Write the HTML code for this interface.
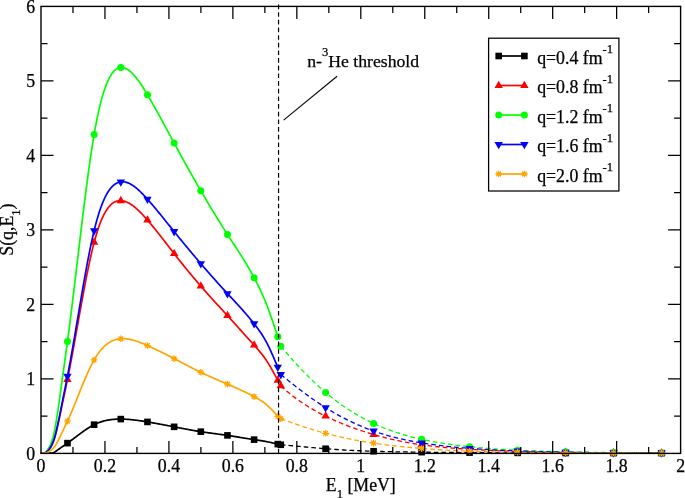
<!DOCTYPE html>
<html><head><meta charset="utf-8"><title>S(q,E1)</title>
<style>html,body{margin:0;padding:0;background:#fff}body{width:685px;height:498px;overflow:hidden}</style>
</head><body>
<svg width="685" height="498" viewBox="0 0 685 498" style="display:block">
<rect width="685" height="498" fill="#fff"/>
<path d="M40.80 453.20L41.59 453.20L42.39 453.20L43.18 453.20L43.97 453.20L44.76 453.20L45.56 453.19L46.35 453.19L47.14 453.18L47.93 453.18L48.73 453.20L49.52 453.20L50.31 453.20L51.10 453.20L51.90 453.09L52.69 452.89L53.48 452.60L54.27 452.22L55.07 451.76L55.86 451.24L56.65 450.69L57.44 450.13L58.24 449.58L59.03 449.03L59.82 448.48L60.62 447.92L61.41 447.37L62.20 446.82L62.99 446.26L63.79 445.71L64.58 445.16L65.37 444.61L66.16 444.06L66.96 443.50L67.75 442.94L68.54 442.38L69.33 441.80L70.13 441.23L70.92 440.64L71.71 440.05L72.50 439.46L73.30 438.86L74.09 438.27L74.88 437.67L75.68 437.07L76.47 436.47L77.26 435.87L78.05 435.27L78.85 434.68L79.64 434.08L80.43 433.50L81.22 432.91L82.02 432.33L82.81 431.76L83.60 431.19L84.39 430.64L85.19 430.09L85.98 429.54L86.77 429.01L87.56 428.49L88.36 427.98L89.15 427.48L89.94 427.00L90.73 426.53L91.53 426.07L92.32 425.63L93.11 425.20L93.91 424.79L94.70 424.39L95.49 424.02L96.28 423.66L97.08 423.31L97.87 422.99L98.66 422.68L99.45 422.38L100.25 422.10L101.04 421.83L101.83 421.58L102.62 421.35L103.42 421.12L104.21 420.91L105.00 420.72L105.79 420.53L106.59 420.36L107.38 420.21L108.17 420.06L108.96 419.93L109.76 419.80L110.55 419.69L111.34 419.59L112.14 419.50L112.93 419.42L113.72 419.34L114.51 419.28L115.31 419.23L116.10 419.19L116.89 419.15L117.68 419.12L118.48 419.10L119.27 419.09L120.06 419.09L120.85 419.09L121.65 419.10L122.44 419.11L123.23 419.13L124.02 419.16L124.82 419.19L125.61 419.23L126.40 419.27L127.20 419.32L127.99 419.38L128.78 419.44L129.57 419.50L130.37 419.57L131.16 419.65L131.95 419.72L132.74 419.81L133.54 419.89L134.33 419.98L135.12 420.08L135.91 420.18L136.71 420.28L137.50 420.38L138.29 420.49L139.08 420.60L139.88 420.72L140.67 420.83L141.46 420.95L142.25 421.07L143.05 421.20L143.84 421.32L144.63 421.45L145.43 421.58L146.22 421.71L147.01 421.84L147.80 421.97L148.60 422.11L149.39 422.24L150.18 422.38L150.97 422.52L151.77 422.65L152.56 422.79L153.35 422.93L154.14 423.08L154.94 423.22L155.73 423.36L156.52 423.50L157.31 423.65L158.11 423.79L158.90 423.94L159.69 424.08L160.48 424.23L161.28 424.38L162.07 424.53L162.86 424.68L163.66 424.83L164.45 424.97L165.24 425.13L166.03 425.28L166.83 425.43L167.62 425.58L168.41 425.73L169.20 425.88L170.00 426.03L170.79 426.19L171.58 426.34L172.37 426.49L173.17 426.65L173.96 426.80L174.75 426.95L175.54 427.11L176.34 427.26L177.13 427.41L177.92 427.57L178.72 427.72L179.51 427.87L180.30 428.02L181.09 428.18L181.89 428.33L182.68 428.48L183.47 428.63L184.26 428.78L185.06 428.93L185.85 429.08L186.64 429.23L187.43 429.37L188.23 429.52L189.02 429.67L189.81 429.81L190.60 429.95L191.40 430.10L192.19 430.24L192.98 430.38L193.77 430.51L194.57 430.65L195.36 430.79L196.15 430.92L196.95 431.05L197.74 431.18L198.53 431.31L199.32 431.44L200.12 431.57L200.91 431.69L201.70 431.81L202.49 431.93L203.29 432.05L204.08 432.17L204.87 432.29L205.66 432.40L206.46 432.51L207.25 432.62L208.04 432.74L208.83 432.85L209.63 432.95L210.42 433.06L211.21 433.17L212.00 433.28L212.80 433.38L213.59 433.49L214.38 433.60L215.18 433.70L215.97 433.81L216.76 433.91L217.55 434.02L218.35 434.13L219.14 434.23L219.93 434.34L220.72 434.45L221.52 434.56L222.31 434.66L223.10 434.77L223.89 434.88L224.69 435.00L225.48 435.11L226.27 435.22L227.06 435.34L227.86 435.46L228.65 435.57L229.44 435.69L230.24 435.82L231.03 435.94L231.82 436.06L232.61 436.19L233.41 436.31L234.20 436.44L234.99 436.56L235.78 436.69L236.58 436.82L237.37 436.95L238.16 437.08L238.95 437.21L239.75 437.34L240.54 437.47L241.33 437.60L242.12 437.73L242.92 437.86L243.71 437.99L244.50 438.12L245.29 438.25L246.09 438.38L246.88 438.51L247.67 438.63L248.47 438.76L249.26 438.89L250.05 439.01L250.84 439.14L251.64 439.26L252.43 439.38L253.22 439.51L254.01 439.63L254.81 439.74L255.60 439.86L256.39 439.98L257.18 440.10L257.98 440.21L258.77 440.33L259.56 440.45L260.35 440.57L261.15 440.69L261.94 440.82L262.73 440.95L263.52 441.08L264.32 441.21L265.11 441.35L265.90 441.50L266.70 441.64L267.49 441.80L268.28 441.96L269.07 442.12L269.87 442.29L270.66 442.46L271.45 442.63L272.24 442.81L273.04 442.99L273.83 443.18L274.62 443.36L275.41 443.55L276.21 443.74L277.00 443.92L277.79 444.11" fill="none" stroke="#000000" stroke-width="1.7" stroke-linejoin="round"/>
<rect x="64.17" y="439.84" width="6.60" height="6.60" fill="#000000"/>
<rect x="90.83" y="421.37" width="6.60" height="6.60" fill="#000000"/>
<rect x="117.50" y="415.79" width="6.60" height="6.60" fill="#000000"/>
<rect x="144.17" y="418.62" width="6.60" height="6.60" fill="#000000"/>
<rect x="170.83" y="423.53" width="6.60" height="6.60" fill="#000000"/>
<rect x="197.50" y="428.37" width="6.60" height="6.60" fill="#000000"/>
<rect x="224.17" y="432.10" width="6.60" height="6.60" fill="#000000"/>
<rect x="250.83" y="436.34" width="6.60" height="6.60" fill="#000000"/>
<rect x="274.49" y="440.81" width="6.60" height="6.60" fill="#000000"/>
<path d="M280.80 444.78L282.71 444.93L284.63 445.09L286.54 445.25L288.45 445.42L290.37 445.59L292.28 445.76L294.19 445.94L296.11 446.12L298.02 446.29L299.94 446.47L301.85 446.65L303.76 446.83L305.68 447.01L307.59 447.19L309.50 447.36L311.42 447.53L313.33 447.70L315.24 447.87L317.16 448.04L319.07 448.20L320.98 448.36L322.90 448.52L324.81 448.67L326.73 448.82L328.64 448.96L330.55 449.10L332.47 449.24L334.38 449.37L336.29 449.50L338.21 449.63L340.12 449.75L342.03 449.87L343.95 449.98L345.86 450.09L347.77 450.19L349.69 450.30L351.60 450.39L353.52 450.49L355.43 450.58L357.34 450.66L359.26 450.75L361.17 450.83L363.08 450.90L365.00 450.97L366.91 451.04L368.82 451.11L370.74 451.17L372.65 451.23L374.56 451.29L376.48 451.35L378.39 451.40L380.31 451.45L382.22 451.50L384.13 451.54L386.05 451.59L387.96 451.63L389.87 451.67L391.79 451.71L393.70 451.74L395.61 451.78L397.53 451.81L399.44 451.85L401.35 451.88L403.27 451.91L405.18 451.94L407.10 451.97L409.01 451.99L410.92 452.02L412.84 452.05L414.75 452.07L416.66 452.10L418.58 452.12L420.49 452.14L422.40 452.17L424.32 452.19L426.23 452.21L428.14 452.23L430.06 452.25L431.97 452.27L433.89 452.29L435.80 452.31L437.71 452.33L439.63 452.35L441.54 452.37L443.45 452.38L445.37 452.40L447.28 452.42L449.19 452.44L451.11 452.45L453.02 452.47L454.93 452.49L456.85 452.50L458.76 452.52L460.68 452.53L462.59 452.55L464.50 452.56L466.42 452.58L468.33 452.59L470.24 452.61L472.16 452.62L474.07 452.64L475.98 452.65L477.90 452.67L479.81 452.68L481.72 452.69L483.64 452.71L485.55 452.72L487.47 452.73L489.38 452.75L491.29 452.76L493.21 452.77L495.12 452.78L497.03 452.80L498.95 452.81L500.86 452.82L502.77 452.83L504.69 452.84L506.60 452.85L508.51 452.86L510.43 452.87L512.34 452.88L514.26 452.89L516.17 452.90L518.08 452.90L520.00 452.91L521.91 452.92L523.82 452.93L525.74 452.94L527.65 452.94L529.56 452.95L531.48 452.96L533.39 452.96L535.30 452.97L537.22 452.98L539.13 452.98L541.05 452.99L542.96 452.99L544.87 453.00L546.79 453.01L548.70 453.01L550.61 453.02L552.53 453.02L554.44 453.03L556.35 453.03L558.27 453.03L560.18 453.04L562.09 453.04L564.01 453.05L565.92 453.05L567.84 453.06L569.75 453.06L571.66 453.06L573.58 453.07L575.49 453.07L577.40 453.07L579.32 453.08L581.23 453.08L583.14 453.08L585.06 453.09L586.97 453.09L588.88 453.09L590.80 453.10L592.71 453.10L594.63 453.10L596.54 453.10L598.45 453.11L600.37 453.11L602.28 453.11L604.19 453.11L606.11 453.12L608.02 453.12L609.93 453.12L611.85 453.12L613.76 453.13L615.67 453.13L617.59 453.13L619.50 453.13L621.42 453.13L623.33 453.14L625.24 453.14L627.16 453.14L629.07 453.14L630.98 453.14L632.90 453.14L634.81 453.15L636.72 453.15L638.64 453.15L640.55 453.15L642.46 453.15L644.38 453.15L646.29 453.15L648.21 453.15L650.12 453.16L652.03 453.16L653.95 453.16L655.86 453.16L657.77 453.16L659.69 453.16L661.60 453.16" fill="none" stroke="#000000" stroke-width="1.3" stroke-dasharray="4.66 3" stroke-linejoin="round"/>
<rect x="277.50" y="441.48" width="6.60" height="6.60" fill="#000000"/>
<rect x="322.30" y="445.43" width="6.60" height="6.60" fill="#000000"/>
<rect x="370.30" y="447.96" width="6.60" height="6.60" fill="#000000"/>
<rect x="418.30" y="448.86" width="6.60" height="6.60" fill="#000000"/>
<rect x="466.30" y="449.30" width="6.60" height="6.60" fill="#000000"/>
<rect x="514.30" y="449.60" width="6.60" height="6.60" fill="#000000"/>
<rect x="562.30" y="449.75" width="6.60" height="6.60" fill="#000000"/>
<rect x="610.30" y="449.83" width="6.60" height="6.60" fill="#000000"/>
<rect x="658.30" y="449.86" width="6.60" height="6.60" fill="#000000"/>
<path d="M40.80 453.20L41.59 453.20L42.39 453.18L43.18 453.13L43.97 453.01L44.76 452.80L45.56 452.49L46.35 452.04L47.14 451.47L47.93 450.77L48.73 449.93L49.52 448.96L50.31 447.85L51.10 446.58L51.90 445.11L52.69 443.41L53.48 441.44L54.27 439.16L55.07 436.55L55.86 433.63L56.65 430.46L57.44 427.10L58.24 423.58L59.03 419.93L59.82 416.18L60.62 412.35L61.41 408.50L62.20 404.68L62.99 400.91L63.79 397.18L64.58 393.46L65.37 389.72L66.16 385.94L66.96 382.11L67.75 378.21L68.54 374.23L69.33 370.18L70.13 366.05L70.92 361.87L71.71 357.63L72.50 353.35L73.30 349.02L74.09 344.66L74.88 340.27L75.68 335.86L76.47 331.43L77.26 326.99L78.05 322.55L78.85 318.12L79.64 313.69L80.43 309.29L81.22 304.90L82.02 300.55L82.81 296.23L83.60 291.96L84.39 287.74L85.19 283.57L85.98 279.46L86.77 275.43L87.56 271.47L88.36 267.59L89.15 263.80L89.94 260.10L90.73 256.51L91.53 253.03L92.32 249.66L93.11 246.41L93.91 243.29L94.70 240.30L95.49 237.44L96.28 234.72L97.08 232.13L97.87 229.66L98.66 227.32L99.45 225.09L100.25 222.98L101.04 220.99L101.83 219.11L102.62 217.35L103.42 215.68L104.21 214.12L105.00 212.67L105.79 211.31L106.59 210.05L107.38 208.88L108.17 207.80L108.96 206.82L109.76 205.91L110.55 205.09L111.34 204.35L112.14 203.69L112.93 203.10L113.72 202.58L114.51 202.13L115.31 201.75L116.10 201.43L116.89 201.17L117.68 200.97L118.48 200.83L119.27 200.74L120.06 200.70L120.85 200.70L121.65 200.76L122.44 200.85L123.23 200.99L124.02 201.17L124.82 201.39L125.61 201.65L126.40 201.95L127.20 202.28L127.99 202.65L128.78 203.06L129.57 203.50L130.37 203.97L131.16 204.47L131.95 205.01L132.74 205.57L133.54 206.17L134.33 206.79L135.12 207.43L135.91 208.11L136.71 208.80L137.50 209.52L138.29 210.26L139.08 211.02L139.88 211.80L140.67 212.60L141.46 213.42L142.25 214.25L143.05 215.10L143.84 215.97L144.63 216.84L145.43 217.73L146.22 218.63L147.01 219.54L147.80 220.46L148.60 221.38L149.39 222.32L150.18 223.26L150.97 224.21L151.77 225.16L152.56 226.12L153.35 227.09L154.14 228.06L154.94 229.04L155.73 230.02L156.52 231.01L157.31 232.01L158.11 233.00L158.90 234.01L159.69 235.01L160.48 236.02L161.28 237.03L162.07 238.04L162.86 239.06L163.66 240.08L164.45 241.10L165.24 242.12L166.03 243.14L166.83 244.17L167.62 245.19L168.41 246.21L169.20 247.24L170.00 248.26L170.79 249.28L171.58 250.31L172.37 251.33L173.17 252.35L173.96 253.36L174.75 254.38L175.54 255.39L176.34 256.40L177.13 257.40L177.92 258.41L178.72 259.41L179.51 260.41L180.30 261.41L181.09 262.40L181.89 263.39L182.68 264.38L183.47 265.37L184.26 266.35L185.06 267.33L185.85 268.31L186.64 269.28L187.43 270.25L188.23 271.22L189.02 272.18L189.81 273.14L190.60 274.10L191.40 275.06L192.19 276.01L192.98 276.96L193.77 277.91L194.57 278.85L195.36 279.79L196.15 280.72L196.95 281.65L197.74 282.58L198.53 283.51L199.32 284.43L200.12 285.34L200.91 286.26L201.70 287.17L202.49 288.08L203.29 288.98L204.08 289.88L204.87 290.78L205.66 291.67L206.46 292.56L207.25 293.45L208.04 294.33L208.83 295.22L209.63 296.10L210.42 296.98L211.21 297.85L212.00 298.73L212.80 299.60L213.59 300.47L214.38 301.34L215.18 302.21L215.97 303.08L216.76 303.95L217.55 304.81L218.35 305.68L219.14 306.54L219.93 307.41L220.72 308.27L221.52 309.14L222.31 310.00L223.10 310.86L223.89 311.73L224.69 312.59L225.48 313.46L226.27 314.32L227.06 315.19L227.86 316.06L228.65 316.93L229.44 317.80L230.24 318.67L231.03 319.54L231.82 320.41L232.61 321.28L233.41 322.16L234.20 323.03L234.99 323.91L235.78 324.78L236.58 325.66L237.37 326.54L238.16 327.42L238.95 328.30L239.75 329.18L240.54 330.06L241.33 330.94L242.12 331.82L242.92 332.70L243.71 333.58L244.50 334.46L245.29 335.35L246.09 336.23L246.88 337.11L247.67 337.99L248.47 338.88L249.26 339.76L250.05 340.65L250.84 341.53L251.64 342.41L252.43 343.30L253.22 344.18L254.01 345.07L254.81 345.95L255.60 346.84L256.39 347.73L257.18 348.62L257.98 349.53L258.77 350.45L259.56 351.39L260.35 352.34L261.15 353.31L261.94 354.31L262.73 355.33L263.52 356.37L264.32 357.45L265.11 358.56L265.90 359.70L266.70 360.89L267.49 362.11L268.28 363.37L269.07 364.66L269.87 365.99L270.66 367.34L271.45 368.72L272.24 370.13L273.04 371.55L273.83 372.99L274.62 374.45L275.41 375.91L276.21 377.39L277.00 378.87L277.79 380.36" fill="none" stroke="#ff0000" stroke-width="1.7" stroke-linejoin="round"/>
<path d="M67.47 374.76L63.27 382.04L71.67 382.04Z" fill="#ff0000"/>
<path d="M94.13 237.56L89.93 244.84L98.33 244.84Z" fill="#ff0000"/>
<path d="M120.80 195.85L116.60 203.13L125.00 203.13Z" fill="#ff0000"/>
<path d="M147.47 215.22L143.27 222.49L151.67 222.49Z" fill="#ff0000"/>
<path d="M174.13 248.73L169.93 256.01L178.33 256.01Z" fill="#ff0000"/>
<path d="M200.80 281.28L196.60 288.56L205.00 288.56Z" fill="#ff0000"/>
<path d="M227.47 310.78L223.27 318.05L231.67 318.05Z" fill="#ff0000"/>
<path d="M254.13 340.35L249.93 347.62L258.33 347.62Z" fill="#ff0000"/>
<path d="M277.79 375.51L273.59 382.78L281.99 382.78Z" fill="#ff0000"/>
<path d="M280.80 385.94L282.71 387.69L284.63 389.38L286.54 391.02L288.45 392.61L290.37 394.15L292.28 395.65L294.19 397.11L296.11 398.52L298.02 399.90L299.94 401.23L301.85 402.53L303.76 403.80L305.68 405.03L307.59 406.23L309.50 407.40L311.42 408.55L313.33 409.66L315.24 410.74L317.16 411.80L319.07 412.83L320.98 413.84L322.90 414.83L324.81 415.79L326.73 416.73L328.64 417.65L330.55 418.55L332.47 419.43L334.38 420.29L336.29 421.13L338.21 421.96L340.12 422.76L342.03 423.55L343.95 424.33L345.86 425.09L347.77 425.83L349.69 426.56L351.60 427.27L353.52 427.97L355.43 428.65L357.34 429.32L359.26 429.98L361.17 430.62L363.08 431.25L365.00 431.87L366.91 432.48L368.82 433.07L370.74 433.65L372.65 434.23L374.56 434.79L376.48 435.33L378.39 435.87L380.31 436.39L382.22 436.91L384.13 437.41L386.05 437.89L387.96 438.37L389.87 438.83L391.79 439.28L393.70 439.72L395.61 440.15L397.53 440.56L399.44 440.96L401.35 441.35L403.27 441.73L405.18 442.10L407.10 442.45L409.01 442.79L410.92 443.13L412.84 443.45L414.75 443.76L416.66 444.06L418.58 444.35L420.49 444.63L422.40 444.90L424.32 445.16L426.23 445.41L428.14 445.65L430.06 445.88L431.97 446.11L433.89 446.33L435.80 446.54L437.71 446.74L439.63 446.94L441.54 447.13L443.45 447.32L445.37 447.49L447.28 447.67L449.19 447.83L451.11 448.00L453.02 448.15L454.93 448.31L456.85 448.45L458.76 448.60L460.68 448.73L462.59 448.87L464.50 449.00L466.42 449.12L468.33 449.25L470.24 449.37L472.16 449.48L474.07 449.59L475.98 449.70L477.90 449.81L479.81 449.91L481.72 450.01L483.64 450.11L485.55 450.20L487.47 450.29L489.38 450.38L491.29 450.46L493.21 450.55L495.12 450.63L497.03 450.71L498.95 450.78L500.86 450.86L502.77 450.93L504.69 451.00L506.60 451.06L508.51 451.13L510.43 451.19L512.34 451.25L514.26 451.31L516.17 451.37L518.08 451.43L520.00 451.48L521.91 451.53L523.82 451.58L525.74 451.63L527.65 451.68L529.56 451.73L531.48 451.77L533.39 451.82L535.30 451.86L537.22 451.90L539.13 451.94L541.05 451.98L542.96 452.02L544.87 452.05L546.79 452.09L548.70 452.12L550.61 452.16L552.53 452.19L554.44 452.22L556.35 452.25L558.27 452.28L560.18 452.31L562.09 452.33L564.01 452.36L565.92 452.38L567.84 452.41L569.75 452.43L571.66 452.46L573.58 452.48L575.49 452.50L577.40 452.52L579.32 452.54L581.23 452.56L583.14 452.58L585.06 452.60L586.97 452.62L588.88 452.64L590.80 452.65L592.71 452.67L594.63 452.69L596.54 452.70L598.45 452.72L600.37 452.73L602.28 452.75L604.19 452.76L606.11 452.78L608.02 452.79L609.93 452.80L611.85 452.82L613.76 452.83L615.67 452.84L617.59 452.85L619.50 452.86L621.42 452.88L623.33 452.89L625.24 452.90L627.16 452.91L629.07 452.92L630.98 452.93L632.90 452.94L634.81 452.95L636.72 452.95L638.64 452.96L640.55 452.97L642.46 452.98L644.38 452.99L646.29 453.00L648.21 453.00L650.12 453.01L652.03 453.02L653.95 453.03L655.86 453.03L657.77 453.04L659.69 453.04L661.60 453.05" fill="none" stroke="#ff0000" stroke-width="1.3" stroke-dasharray="4.66 3" stroke-linejoin="round"/>
<path d="M280.80 381.09L276.60 388.37L285.00 388.37Z" fill="#ff0000"/>
<path d="M325.60 411.33L321.40 418.61L329.80 418.61Z" fill="#ff0000"/>
<path d="M373.60 429.65L369.40 436.93L377.80 436.93Z" fill="#ff0000"/>
<path d="M421.60 439.93L417.40 447.21L425.80 447.21Z" fill="#ff0000"/>
<path d="M469.60 444.48L465.40 451.75L473.80 451.75Z" fill="#ff0000"/>
<path d="M517.60 446.56L513.40 453.84L521.80 453.84Z" fill="#ff0000"/>
<path d="M565.60 447.53L561.40 454.81L569.80 454.81Z" fill="#ff0000"/>
<path d="M613.60 447.98L609.40 455.25L617.80 455.25Z" fill="#ff0000"/>
<path d="M661.60 448.20L657.40 455.48L665.80 455.48Z" fill="#ff0000"/>
<path d="M40.80 453.20L41.59 453.20L42.39 453.18L43.18 453.09L43.97 452.91L44.76 452.60L45.56 452.12L46.35 451.45L47.14 450.58L47.93 449.51L48.73 448.24L49.52 446.77L50.31 445.09L51.10 443.17L51.90 440.94L52.69 438.36L53.48 435.36L54.27 431.91L55.07 427.96L55.86 423.53L56.65 418.72L57.44 413.63L58.24 408.30L59.03 402.76L59.82 397.07L60.62 391.26L61.41 385.43L62.20 379.63L62.99 373.92L63.79 368.26L64.58 362.62L65.37 356.95L66.16 351.22L66.96 345.42L67.75 339.51L68.54 333.48L69.33 327.35L70.13 321.12L70.92 314.80L71.71 308.40L72.50 301.94L73.30 295.42L74.09 288.84L74.88 282.23L75.68 275.58L76.47 268.91L77.26 262.23L78.05 255.54L78.85 248.87L79.64 242.21L80.43 235.57L81.22 228.97L82.02 222.41L82.81 215.91L83.60 209.46L84.39 203.10L85.19 196.81L85.98 190.61L86.77 184.52L87.56 178.53L88.36 172.67L89.15 166.93L89.94 161.33L90.73 155.88L91.53 150.59L92.32 145.46L93.11 140.51L93.91 135.75L94.70 131.18L95.49 126.80L96.28 122.62L97.08 118.62L97.87 114.81L98.66 111.17L99.45 107.72L100.25 104.43L101.04 101.32L101.83 98.37L102.62 95.58L103.42 92.95L104.21 90.47L105.00 88.15L105.79 85.97L106.59 83.93L107.38 82.04L108.17 80.28L108.96 78.65L109.76 77.15L110.55 75.77L111.34 74.52L112.14 73.38L112.93 72.35L113.72 71.44L114.51 70.63L115.31 69.92L116.10 69.31L116.89 68.80L117.68 68.38L118.48 68.04L119.27 67.79L120.06 67.62L120.85 67.52L121.65 67.50L122.44 67.55L123.23 67.66L124.02 67.85L124.82 68.10L125.61 68.41L126.40 68.78L127.20 69.22L127.99 69.71L128.78 70.26L129.57 70.86L130.37 71.51L131.16 72.22L131.95 72.97L132.74 73.77L133.54 74.62L134.33 75.50L135.12 76.43L135.91 77.40L136.71 78.40L137.50 79.44L138.29 80.52L139.08 81.62L139.88 82.76L140.67 83.92L141.46 85.11L142.25 86.33L143.05 87.56L143.84 88.82L144.63 90.10L145.43 91.39L146.22 92.70L147.01 94.02L147.80 95.35L148.60 96.70L149.39 98.05L150.18 99.41L150.97 100.78L151.77 102.16L152.56 103.55L153.35 104.94L154.14 106.35L154.94 107.76L155.73 109.17L156.52 110.60L157.31 112.02L158.11 113.46L158.90 114.90L159.69 116.34L160.48 117.79L161.28 119.24L162.07 120.70L162.86 122.16L163.66 123.62L164.45 125.09L165.24 126.56L166.03 128.03L166.83 129.50L167.62 130.97L168.41 132.44L169.20 133.91L170.00 135.38L170.79 136.86L171.58 138.33L172.37 139.80L173.17 141.26L173.96 142.73L174.75 144.19L175.54 145.65L176.34 147.11L177.13 148.57L177.92 150.02L178.72 151.47L179.51 152.92L180.30 154.37L181.09 155.81L181.89 157.25L182.68 158.69L183.47 160.12L184.26 161.55L185.06 162.98L185.85 164.41L186.64 165.83L187.43 167.25L188.23 168.66L189.02 170.08L189.81 171.49L190.60 172.90L191.40 174.30L192.19 175.70L192.98 177.10L193.77 178.50L194.57 179.89L195.36 181.28L196.15 182.66L196.95 184.05L197.74 185.42L198.53 186.80L199.32 188.17L200.12 189.54L200.91 190.91L201.70 192.27L202.49 193.63L203.29 194.98L204.08 196.33L204.87 197.68L205.66 199.03L206.46 200.37L207.25 201.70L208.04 203.04L208.83 204.37L209.63 205.69L210.42 207.01L211.21 208.33L212.00 209.64L212.80 210.95L213.59 212.26L214.38 213.56L215.18 214.86L215.97 216.15L216.76 217.44L217.55 218.73L218.35 220.01L219.14 221.29L219.93 222.56L220.72 223.83L221.52 225.09L222.31 226.35L223.10 227.61L223.89 228.86L224.69 230.11L225.48 231.35L226.27 232.59L227.06 233.82L227.86 235.05L228.65 236.27L229.44 237.49L230.24 238.71L231.03 239.93L231.82 241.14L232.61 242.35L233.41 243.57L234.20 244.78L234.99 246.00L235.78 247.22L236.58 248.44L237.37 249.66L238.16 250.89L238.95 252.13L239.75 253.37L240.54 254.61L241.33 255.87L242.12 257.13L242.92 258.40L243.71 259.68L244.50 260.97L245.29 262.27L246.09 263.58L246.88 264.90L247.67 266.24L248.47 267.59L249.26 268.96L250.05 270.34L250.84 271.74L251.64 273.15L252.43 274.58L253.22 276.03L254.01 277.49L254.81 278.98L255.60 280.49L256.39 282.02L257.18 283.57L257.98 285.16L258.77 286.77L259.56 288.41L260.35 290.09L261.15 291.80L261.94 293.54L262.73 295.33L263.52 297.16L264.32 299.02L265.11 300.94L265.90 302.89L266.70 304.90L267.49 306.96L268.28 309.06L269.07 311.21L269.87 313.39L270.66 315.61L271.45 317.87L272.24 320.15L273.04 322.46L273.83 324.79L274.62 327.14L275.41 329.50L276.21 331.87L277.00 334.25L277.79 336.63" fill="none" stroke="#00ff00" stroke-width="1.7" stroke-linejoin="round"/>
<circle cx="67.47" cy="341.62" r="3.5" fill="#00ff00"/>
<circle cx="94.13" cy="134.41" r="3.5" fill="#00ff00"/>
<circle cx="120.80" cy="67.53" r="3.5" fill="#00ff00"/>
<circle cx="147.47" cy="94.79" r="3.5" fill="#00ff00"/>
<circle cx="174.13" cy="143.05" r="3.5" fill="#00ff00"/>
<circle cx="200.80" cy="190.72" r="3.5" fill="#00ff00"/>
<circle cx="227.47" cy="234.44" r="3.5" fill="#00ff00"/>
<circle cx="254.13" cy="277.72" r="3.5" fill="#00ff00"/>
<circle cx="277.79" cy="336.63" r="3.5" fill="#00ff00"/>
<path d="M280.80 346.24L282.71 348.50L284.63 350.75L286.54 352.97L288.45 355.17L290.37 357.34L292.28 359.50L294.19 361.63L296.11 363.73L298.02 365.80L299.94 367.85L301.85 369.87L303.76 371.86L305.68 373.83L307.59 375.76L309.50 377.66L311.42 379.53L313.33 381.37L315.24 383.18L317.16 384.96L319.07 386.71L320.98 388.42L322.90 390.10L324.81 391.75L326.73 393.37L328.64 394.96L330.55 396.51L332.47 398.03L334.38 399.52L336.29 400.98L338.21 402.41L340.12 403.80L342.03 405.17L343.95 406.50L345.86 407.80L347.77 409.08L349.69 410.32L351.60 411.53L353.52 412.72L355.43 413.87L357.34 415.00L359.26 416.10L361.17 417.17L363.08 418.21L365.00 419.23L366.91 420.22L368.82 421.18L370.74 422.12L372.65 423.04L374.56 423.93L376.48 424.79L378.39 425.63L380.31 426.45L382.22 427.25L384.13 428.02L386.05 428.77L387.96 429.51L389.87 430.21L391.79 430.90L393.70 431.57L395.61 432.22L397.53 432.85L399.44 433.47L401.35 434.06L403.27 434.64L405.18 435.20L407.10 435.74L409.01 436.26L410.92 436.77L412.84 437.27L414.75 437.75L416.66 438.21L418.58 438.66L420.49 439.10L422.40 439.52L424.32 439.93L426.23 440.33L428.14 440.71L430.06 441.09L431.97 441.45L433.89 441.80L435.80 442.14L437.71 442.47L439.63 442.79L441.54 443.10L443.45 443.40L445.37 443.69L447.28 443.97L449.19 444.25L451.11 444.51L453.02 444.77L454.93 445.02L456.85 445.27L458.76 445.50L460.68 445.73L462.59 445.96L464.50 446.17L466.42 446.38L468.33 446.59L470.24 446.79L472.16 446.98L474.07 447.17L475.98 447.35L477.90 447.53L479.81 447.70L481.72 447.86L483.64 448.03L485.55 448.18L487.47 448.33L489.38 448.48L491.29 448.63L493.21 448.77L495.12 448.90L497.03 449.03L498.95 449.16L500.86 449.28L502.77 449.40L504.69 449.52L506.60 449.63L508.51 449.74L510.43 449.85L512.34 449.95L514.26 450.05L516.17 450.15L518.08 450.24L520.00 450.34L521.91 450.42L523.82 450.51L525.74 450.59L527.65 450.67L529.56 450.75L531.48 450.83L533.39 450.90L535.30 450.97L537.22 451.04L539.13 451.11L541.05 451.18L542.96 451.24L544.87 451.30L546.79 451.36L548.70 451.42L550.61 451.47L552.53 451.53L554.44 451.58L556.35 451.63L558.27 451.68L560.18 451.73L562.09 451.78L564.01 451.82L565.92 451.87L567.84 451.91L569.75 451.95L571.66 451.99L573.58 452.03L575.49 452.07L577.40 452.10L579.32 452.14L581.23 452.17L583.14 452.21L585.06 452.24L586.97 452.27L588.88 452.30L590.80 452.33L592.71 452.36L594.63 452.38L596.54 452.41L598.45 452.43L600.37 452.46L602.28 452.48L604.19 452.50L606.11 452.53L608.02 452.55L609.93 452.57L611.85 452.59L613.76 452.61L615.67 452.62L617.59 452.64L619.50 452.66L621.42 452.67L623.33 452.69L625.24 452.70L627.16 452.72L629.07 452.73L630.98 452.75L632.90 452.76L634.81 452.77L636.72 452.78L638.64 452.80L640.55 452.81L642.46 452.82L644.38 452.83L646.29 452.84L648.21 452.85L650.12 452.86L652.03 452.86L653.95 452.87L655.86 452.88L657.77 452.89L659.69 452.90L661.60 452.90" fill="none" stroke="#00ff00" stroke-width="1.3" stroke-dasharray="4.66 3" stroke-linejoin="round"/>
<circle cx="280.80" cy="346.24" r="3.5" fill="#00ff00"/>
<circle cx="325.60" cy="392.42" r="3.5" fill="#00ff00"/>
<circle cx="373.60" cy="423.48" r="3.5" fill="#00ff00"/>
<circle cx="421.60" cy="439.35" r="3.5" fill="#00ff00"/>
<circle cx="469.60" cy="446.72" r="3.5" fill="#00ff00"/>
<circle cx="517.60" cy="450.22" r="3.5" fill="#00ff00"/>
<circle cx="565.60" cy="451.86" r="3.5" fill="#00ff00"/>
<circle cx="613.60" cy="452.60" r="3.5" fill="#00ff00"/>
<circle cx="661.60" cy="452.90" r="3.5" fill="#00ff00"/>
<path d="M40.80 453.20L41.59 453.20L42.39 453.18L43.18 453.13L43.97 453.00L44.76 452.79L45.56 452.45L46.35 451.99L47.14 451.39L47.93 450.65L48.73 449.77L49.52 448.76L50.31 447.60L51.10 446.27L51.90 444.73L52.69 442.95L53.48 440.88L54.27 438.49L55.07 435.76L55.86 432.70L56.65 429.38L57.44 425.86L58.24 422.18L59.03 418.35L59.82 414.42L60.62 410.41L61.41 406.38L62.20 402.37L62.99 398.42L63.79 394.51L64.58 390.61L65.37 386.70L66.16 382.75L66.96 378.73L67.75 374.64L68.54 370.47L69.33 366.22L70.13 361.89L70.92 357.50L71.71 353.05L72.50 348.54L73.30 343.99L74.09 339.40L74.88 334.78L75.68 330.13L76.47 325.47L77.26 320.79L78.05 316.10L78.85 311.42L79.64 306.75L80.43 302.09L81.22 297.45L82.02 292.83L82.81 288.26L83.60 283.72L84.39 279.24L85.19 274.80L85.98 270.43L86.77 266.13L87.56 261.90L88.36 257.76L89.15 253.70L89.94 249.74L90.73 245.88L91.53 242.13L92.32 238.49L93.11 234.98L93.91 231.59L94.70 228.34L95.49 225.23L96.28 222.25L97.08 219.39L97.87 216.67L98.66 214.07L99.45 211.60L100.25 209.24L101.04 207.01L101.83 204.88L102.62 202.87L103.42 200.97L104.21 199.18L105.00 197.49L105.79 195.91L106.59 194.42L107.38 193.04L108.17 191.74L108.96 190.54L109.76 189.43L110.55 188.41L111.34 187.47L112.14 186.61L112.93 185.83L113.72 185.13L114.51 184.50L115.31 183.95L116.10 183.46L116.89 183.04L117.68 182.68L118.48 182.39L119.27 182.15L120.06 181.98L120.85 181.85L121.65 181.78L122.44 181.75L123.23 181.78L124.02 181.85L124.82 181.97L125.61 182.13L126.40 182.34L127.20 182.59L127.99 182.88L128.78 183.21L129.57 183.58L130.37 183.98L131.16 184.42L131.95 184.90L132.74 185.41L133.54 185.94L134.33 186.52L135.12 187.11L135.91 187.74L136.71 188.39L137.50 189.07L138.29 189.78L139.08 190.50L139.88 191.25L140.67 192.01L141.46 192.80L142.25 193.60L143.05 194.42L143.84 195.25L144.63 196.10L145.43 196.96L146.22 197.82L147.01 198.70L147.80 199.59L148.60 200.48L149.39 201.38L150.18 202.29L150.97 203.21L151.77 204.13L152.56 205.05L153.35 205.98L154.14 206.92L154.94 207.86L155.73 208.81L156.52 209.76L157.31 210.72L158.11 211.68L158.90 212.64L159.69 213.61L160.48 214.58L161.28 215.56L162.07 216.53L162.86 217.51L163.66 218.49L164.45 219.47L165.24 220.46L166.03 221.45L166.83 222.43L167.62 223.42L168.41 224.41L169.20 225.40L170.00 226.39L170.79 227.38L171.58 228.36L172.37 229.35L173.17 230.34L173.96 231.32L174.75 232.31L175.54 233.29L176.34 234.27L177.13 235.25L177.92 236.22L178.72 237.20L179.51 238.17L180.30 239.14L181.09 240.11L181.89 241.08L182.68 242.05L183.47 243.01L184.26 243.97L185.06 244.93L185.85 245.89L186.64 246.85L187.43 247.81L188.23 248.76L189.02 249.71L189.81 250.66L190.60 251.61L191.40 252.56L192.19 253.50L192.98 254.45L193.77 255.39L194.57 256.32L195.36 257.26L196.15 258.20L196.95 259.13L197.74 260.06L198.53 260.99L199.32 261.92L200.12 262.84L200.91 263.77L201.70 264.69L202.49 265.61L203.29 266.52L204.08 267.44L204.87 268.35L205.66 269.26L206.46 270.17L207.25 271.08L208.04 271.99L208.83 272.89L209.63 273.79L210.42 274.69L211.21 275.59L212.00 276.48L212.80 277.38L213.59 278.27L214.38 279.16L215.18 280.05L215.97 280.93L216.76 281.82L217.55 282.70L218.35 283.58L219.14 284.46L219.93 285.34L220.72 286.21L221.52 287.09L222.31 287.96L223.10 288.83L223.89 289.69L224.69 290.56L225.48 291.42L226.27 292.29L227.06 293.15L227.86 294.01L228.65 294.86L229.44 295.72L230.24 296.57L231.03 297.43L231.82 298.28L232.61 299.14L233.41 299.99L234.20 300.85L234.99 301.70L235.78 302.56L236.58 303.42L237.37 304.29L238.16 305.15L238.95 306.02L239.75 306.89L240.54 307.77L241.33 308.65L242.12 309.54L242.92 310.43L243.71 311.32L244.50 312.22L245.29 313.13L246.09 314.04L246.88 314.96L247.67 315.89L248.47 316.82L249.26 317.76L250.05 318.71L250.84 319.67L251.64 320.64L252.43 321.61L253.22 322.60L254.01 323.60L254.81 324.60L255.60 325.62L256.39 326.66L257.18 327.71L257.98 328.78L258.77 329.88L259.56 331.00L260.35 332.15L261.15 333.33L261.94 334.55L262.73 335.80L263.52 337.09L264.32 338.43L265.11 339.81L265.90 341.23L266.70 342.71L267.49 344.23L268.28 345.81L269.07 347.43L269.87 349.09L270.66 350.79L271.45 352.53L272.24 354.29L273.04 356.08L273.83 357.90L274.62 359.73L275.41 361.58L276.21 363.44L277.00 365.30L277.79 367.17" fill="none" stroke="#0000ff" stroke-width="1.7" stroke-linejoin="round"/>
<path d="M67.47 380.96L63.27 373.68L71.67 373.68Z" fill="#0000ff"/>
<path d="M94.13 235.49L89.93 228.22L98.33 228.22Z" fill="#0000ff"/>
<path d="M120.80 186.71L116.60 179.43L125.00 179.43Z" fill="#0000ff"/>
<path d="M147.47 204.06L143.27 196.79L151.67 196.79Z" fill="#0000ff"/>
<path d="M174.13 236.39L169.93 229.11L178.33 229.11Z" fill="#0000ff"/>
<path d="M200.80 268.49L196.60 261.22L205.00 261.22Z" fill="#0000ff"/>
<path d="M227.47 298.43L223.27 291.16L231.67 291.16Z" fill="#0000ff"/>
<path d="M254.13 328.60L249.93 321.32L258.33 321.32Z" fill="#0000ff"/>
<path d="M277.79 372.02L273.59 364.75L281.99 364.75Z" fill="#0000ff"/>
<path d="M280.80 374.55L282.71 376.09L284.63 377.63L286.54 379.16L288.45 380.69L290.37 382.21L292.28 383.72L294.19 385.22L296.11 386.71L298.02 388.19L299.94 389.65L301.85 391.10L303.76 392.54L305.68 393.96L307.59 395.36L309.50 396.74L311.42 398.11L313.33 399.45L315.24 400.78L317.16 402.09L319.07 403.38L320.98 404.65L322.90 405.89L324.81 407.12L326.73 408.32L328.64 409.50L330.55 410.66L332.47 411.80L334.38 412.92L336.29 414.01L338.21 415.08L340.12 416.13L342.03 417.16L343.95 418.16L345.86 419.14L347.77 420.11L349.69 421.04L351.60 421.96L353.52 422.86L355.43 423.73L357.34 424.58L359.26 425.41L361.17 426.22L363.08 427.01L365.00 427.78L366.91 428.53L368.82 429.26L370.74 429.98L372.65 430.67L374.56 431.34L376.48 432.00L378.39 432.63L380.31 433.25L382.22 433.85L384.13 434.44L386.05 435.01L387.96 435.56L389.87 436.09L391.79 436.61L393.70 437.12L395.61 437.60L397.53 438.08L399.44 438.54L401.35 438.98L403.27 439.42L405.18 439.83L407.10 440.24L409.01 440.63L410.92 441.01L412.84 441.38L414.75 441.74L416.66 442.08L418.58 442.42L420.49 442.74L422.40 443.05L424.32 443.35L426.23 443.65L428.14 443.93L430.06 444.20L431.97 444.47L433.89 444.73L435.80 444.98L437.71 445.22L439.63 445.45L441.54 445.68L443.45 445.90L445.37 446.12L447.28 446.32L449.19 446.53L451.11 446.72L453.02 446.91L454.93 447.10L456.85 447.28L458.76 447.45L460.68 447.62L462.59 447.79L464.50 447.95L466.42 448.11L468.33 448.26L470.24 448.41L472.16 448.55L474.07 448.69L475.98 448.83L477.90 448.96L479.81 449.09L481.72 449.22L483.64 449.34L485.55 449.46L487.47 449.57L489.38 449.68L491.29 449.79L493.21 449.89L495.12 449.99L497.03 450.09L498.95 450.19L500.86 450.28L502.77 450.37L504.69 450.45L506.60 450.54L508.51 450.62L510.43 450.70L512.34 450.77L514.26 450.84L516.17 450.91L518.08 450.98L520.00 451.05L521.91 451.11L523.82 451.17L525.74 451.23L527.65 451.29L529.56 451.35L531.48 451.40L533.39 451.45L535.30 451.50L537.22 451.55L539.13 451.60L541.05 451.65L542.96 451.70L544.87 451.74L546.79 451.78L548.70 451.83L550.61 451.87L552.53 451.91L554.44 451.95L556.35 451.98L558.27 452.02L560.18 452.06L562.09 452.09L564.01 452.13L565.92 452.16L567.84 452.20L569.75 452.23L571.66 452.26L573.58 452.29L575.49 452.32L577.40 452.35L579.32 452.38L581.23 452.41L583.14 452.43L585.06 452.46L586.97 452.48L588.88 452.51L590.80 452.53L592.71 452.55L594.63 452.57L596.54 452.60L598.45 452.62L600.37 452.64L602.28 452.65L604.19 452.67L606.11 452.69L608.02 452.71L609.93 452.72L611.85 452.74L613.76 452.75L615.67 452.77L617.59 452.78L619.50 452.80L621.42 452.81L623.33 452.82L625.24 452.83L627.16 452.84L629.07 452.85L630.98 452.86L632.90 452.87L634.81 452.88L636.72 452.89L638.64 452.90L640.55 452.91L642.46 452.92L644.38 452.92L646.29 452.93L648.21 452.94L650.12 452.94L652.03 452.95L653.95 452.96L655.86 452.96L657.77 452.97L659.69 452.97L661.60 452.98" fill="none" stroke="#0000ff" stroke-width="1.3" stroke-dasharray="4.66 3" stroke-linejoin="round"/>
<path d="M280.80 379.40L276.60 372.12L285.00 372.12Z" fill="#0000ff"/>
<path d="M325.60 412.47L321.40 405.19L329.80 405.19Z" fill="#0000ff"/>
<path d="M373.60 435.85L369.40 428.58L377.80 428.58Z" fill="#0000ff"/>
<path d="M421.60 447.77L417.40 440.50L425.80 440.50Z" fill="#0000ff"/>
<path d="M469.60 453.21L465.40 445.93L473.80 445.93Z" fill="#0000ff"/>
<path d="M517.60 455.82L513.40 448.54L521.80 448.54Z" fill="#0000ff"/>
<path d="M565.60 457.01L561.40 449.73L569.80 449.73Z" fill="#0000ff"/>
<path d="M613.60 457.60L609.40 450.33L617.80 450.33Z" fill="#0000ff"/>
<path d="M661.60 457.83L657.40 450.55L665.80 450.55Z" fill="#0000ff"/>
<path d="M40.80 453.20L41.59 453.20L42.39 453.19L43.18 453.17L43.97 453.12L44.76 453.03L45.56 452.89L46.35 452.70L47.14 452.45L47.93 452.14L48.73 451.78L49.52 451.35L50.31 450.87L51.10 450.32L51.90 449.68L52.69 448.94L53.48 448.08L54.27 447.09L55.07 445.95L55.86 444.68L56.65 443.30L57.44 441.84L58.24 440.31L59.03 438.72L59.82 437.09L60.62 435.42L61.41 433.75L62.20 432.08L62.99 430.44L63.79 428.82L64.58 427.20L65.37 425.57L66.16 423.93L66.96 422.26L67.75 420.56L68.54 418.82L69.33 417.05L70.13 415.25L70.92 413.41L71.71 411.55L72.50 409.67L73.30 407.77L74.09 405.84L74.88 403.91L75.68 401.96L76.47 400.00L77.26 398.04L78.05 396.07L78.85 394.10L79.64 392.13L80.43 390.17L81.22 388.22L82.02 386.27L82.81 384.34L83.60 382.43L84.39 380.54L85.19 378.67L85.98 376.82L86.77 375.00L87.56 373.21L88.36 371.46L89.15 369.74L89.94 368.06L90.73 366.42L91.53 364.83L92.32 363.29L93.11 361.79L93.91 360.35L94.70 358.97L95.49 357.64L96.28 356.37L97.08 355.15L97.87 353.98L98.66 352.87L99.45 351.81L100.25 350.80L101.04 349.83L101.83 348.92L102.62 348.05L103.42 347.23L104.21 346.45L105.00 345.72L105.79 345.03L106.59 344.38L107.38 343.78L108.17 343.21L108.96 342.68L109.76 342.19L110.55 341.74L111.34 341.32L112.14 340.94L112.93 340.59L113.72 340.27L114.51 339.99L115.31 339.73L116.10 339.51L116.89 339.31L117.68 339.14L118.48 339.00L119.27 338.88L120.06 338.79L120.85 338.72L121.65 338.67L122.44 338.64L123.23 338.64L124.02 338.65L124.82 338.69L125.61 338.74L126.40 338.82L127.20 338.91L127.99 339.02L128.78 339.15L129.57 339.29L130.37 339.45L131.16 339.62L131.95 339.81L132.74 340.01L133.54 340.23L134.33 340.46L135.12 340.70L135.91 340.95L136.71 341.21L137.50 341.49L138.29 341.77L139.08 342.06L139.88 342.36L140.67 342.67L141.46 342.99L142.25 343.31L143.05 343.64L143.84 343.98L144.63 344.32L145.43 344.67L146.22 345.01L147.01 345.37L147.80 345.72L148.60 346.08L149.39 346.44L150.18 346.80L150.97 347.17L151.77 347.53L152.56 347.90L153.35 348.27L154.14 348.65L154.94 349.02L155.73 349.40L156.52 349.78L157.31 350.16L158.11 350.54L158.90 350.92L159.69 351.31L160.48 351.70L161.28 352.09L162.07 352.48L162.86 352.87L163.66 353.26L164.45 353.66L165.24 354.06L166.03 354.46L166.83 354.86L167.62 355.26L168.41 355.66L169.20 356.07L170.00 356.47L170.79 356.88L171.58 357.29L172.37 357.69L173.17 358.10L173.96 358.52L174.75 358.93L175.54 359.34L176.34 359.75L177.13 360.17L177.92 360.58L178.72 361.00L179.51 361.42L180.30 361.83L181.09 362.25L181.89 362.67L182.68 363.08L183.47 363.50L184.26 363.91L185.06 364.33L185.85 364.74L186.64 365.16L187.43 365.57L188.23 365.98L189.02 366.39L189.81 366.80L190.60 367.21L191.40 367.62L192.19 368.03L192.98 368.43L193.77 368.83L194.57 369.23L195.36 369.63L196.15 370.03L196.95 370.43L197.74 370.82L198.53 371.21L199.32 371.60L200.12 371.98L200.91 372.36L201.70 372.74L202.49 373.12L203.29 373.49L204.08 373.87L204.87 374.23L205.66 374.60L206.46 374.97L207.25 375.33L208.04 375.69L208.83 376.05L209.63 376.41L210.42 376.76L211.21 377.11L212.00 377.47L212.80 377.82L213.59 378.16L214.38 378.51L215.18 378.86L215.97 379.20L216.76 379.55L217.55 379.89L218.35 380.24L219.14 380.58L219.93 380.92L220.72 381.26L221.52 381.60L222.31 381.94L223.10 382.28L223.89 382.62L224.69 382.96L225.48 383.30L226.27 383.64L227.06 383.98L227.86 384.32L228.65 384.66L229.44 385.01L230.24 385.35L231.03 385.69L231.82 386.04L232.61 386.38L233.41 386.73L234.20 387.07L234.99 387.42L235.78 387.77L236.58 388.13L237.37 388.48L238.16 388.84L238.95 389.20L239.75 389.56L240.54 389.92L241.33 390.28L242.12 390.65L242.92 391.02L243.71 391.39L244.50 391.77L245.29 392.14L246.09 392.53L246.88 392.91L247.67 393.30L248.47 393.69L249.26 394.08L250.05 394.48L250.84 394.88L251.64 395.29L252.43 395.70L253.22 396.11L254.01 396.53L254.81 396.95L255.60 397.38L256.39 397.81L257.18 398.26L257.98 398.71L258.77 399.18L259.56 399.66L260.35 400.15L261.15 400.66L261.94 401.19L262.73 401.74L263.52 402.31L264.32 402.91L265.11 403.52L265.90 404.17L266.70 404.84L267.49 405.54L268.28 406.26L269.07 407.01L269.87 407.79L270.66 408.58L271.45 409.40L272.24 410.23L273.04 411.07L273.83 411.93L274.62 412.80L275.41 413.67L276.21 414.56L277.00 415.44L277.79 416.33" fill="none" stroke="#ffa500" stroke-width="1.7" stroke-linejoin="round"/>
<path d="M64.17 421.17H70.77M67.47 417.87V424.47M65.13 418.84L69.80 423.51M65.13 423.51L69.80 418.84" stroke="#ffa500" stroke-width="1.3" fill="none"/>
<path d="M90.83 359.95H97.43M94.13 356.65V363.25M91.80 357.61L96.47 362.28M91.80 362.28L96.47 357.61" stroke="#ffa500" stroke-width="1.3" fill="none"/>
<path d="M117.50 338.72H124.10M120.80 335.42V342.02M118.47 336.39L123.13 341.05M118.47 341.05L123.13 336.39" stroke="#ffa500" stroke-width="1.3" fill="none"/>
<path d="M144.17 345.57H150.77M147.47 342.27V348.87M145.13 343.24L149.80 347.91M145.13 347.91L149.80 343.24" stroke="#ffa500" stroke-width="1.3" fill="none"/>
<path d="M170.83 358.61H177.43M174.13 355.31V361.91M171.80 356.27L176.47 360.94M171.80 360.94L176.47 356.27" stroke="#ffa500" stroke-width="1.3" fill="none"/>
<path d="M197.50 372.31H204.10M200.80 369.01V375.61M198.47 369.98L203.13 374.64M198.47 374.64L203.13 369.98" stroke="#ffa500" stroke-width="1.3" fill="none"/>
<path d="M224.17 384.15H230.77M227.47 380.85V387.45M225.13 381.82L229.80 386.49M225.13 386.49L229.80 381.82" stroke="#ffa500" stroke-width="1.3" fill="none"/>
<path d="M250.83 396.59H257.43M254.13 393.29V399.89M251.80 394.26L256.47 398.93M251.80 398.93L256.47 394.26" stroke="#ffa500" stroke-width="1.3" fill="none"/>
<path d="M274.49 416.33H281.09M277.79 413.03V419.63M275.46 414.00L280.13 418.66M275.46 418.66L280.13 414.00" stroke="#ffa500" stroke-width="1.3" fill="none"/>
<path d="M280.80 418.64L282.71 419.36L284.63 420.07L286.54 420.78L288.45 421.47L290.37 422.17L292.28 422.85L294.19 423.53L296.11 424.20L298.02 424.86L299.94 425.51L301.85 426.15L303.76 426.78L305.68 427.41L307.59 428.02L309.50 428.63L311.42 429.22L313.33 429.80L315.24 430.38L317.16 430.94L319.07 431.50L320.98 432.04L322.90 432.58L324.81 433.10L326.73 433.61L328.64 434.12L330.55 434.61L332.47 435.09L334.38 435.56L336.29 436.03L338.21 436.48L340.12 436.92L342.03 437.35L343.95 437.78L345.86 438.19L347.77 438.59L349.69 438.98L351.60 439.37L353.52 439.74L355.43 440.11L357.34 440.46L359.26 440.81L361.17 441.15L363.08 441.48L365.00 441.80L366.91 442.11L368.82 442.42L370.74 442.72L372.65 443.00L374.56 443.29L376.48 443.56L378.39 443.83L380.31 444.08L382.22 444.34L384.13 444.58L386.05 444.83L387.96 445.06L389.87 445.29L391.79 445.51L393.70 445.73L395.61 445.95L397.53 446.15L399.44 446.36L401.35 446.56L403.27 446.76L405.18 446.95L407.10 447.13L409.01 447.32L410.92 447.50L412.84 447.67L414.75 447.85L416.66 448.01L418.58 448.18L420.49 448.34L422.40 448.50L424.32 448.65L426.23 448.81L428.14 448.95L430.06 449.10L431.97 449.24L433.89 449.37L435.80 449.50L437.71 449.63L439.63 449.76L441.54 449.88L443.45 449.99L445.37 450.10L447.28 450.21L449.19 450.31L451.11 450.41L453.02 450.51L454.93 450.60L456.85 450.69L458.76 450.77L460.68 450.86L462.59 450.93L464.50 451.01L466.42 451.08L468.33 451.15L470.24 451.21L472.16 451.27L474.07 451.33L475.98 451.39L477.90 451.44L479.81 451.49L481.72 451.54L483.64 451.59L485.55 451.64L487.47 451.68L489.38 451.72L491.29 451.77L493.21 451.81L495.12 451.84L497.03 451.88L498.95 451.92L500.86 451.95L502.77 451.99L504.69 452.02L506.60 452.06L508.51 452.09L510.43 452.12L512.34 452.15L514.26 452.18L516.17 452.21L518.08 452.24L520.00 452.27L521.91 452.30L523.82 452.32L525.74 452.35L527.65 452.38L529.56 452.40L531.48 452.43L533.39 452.45L535.30 452.47L537.22 452.50L539.13 452.52L541.05 452.54L542.96 452.56L544.87 452.58L546.79 452.60L548.70 452.62L550.61 452.63L552.53 452.65L554.44 452.67L556.35 452.68L558.27 452.70L560.18 452.71L562.09 452.73L564.01 452.74L565.92 452.76L567.84 452.77L569.75 452.78L571.66 452.79L573.58 452.80L575.49 452.81L577.40 452.82L579.32 452.83L581.23 452.84L583.14 452.85L585.06 452.86L586.97 452.87L588.88 452.88L590.80 452.89L592.71 452.89L594.63 452.90L596.54 452.91L598.45 452.92L600.37 452.93L602.28 452.93L604.19 452.94L606.11 452.95L608.02 452.96L609.93 452.96L611.85 452.97L613.76 452.98L615.67 452.98L617.59 452.99L619.50 453.00L621.42 453.00L623.33 453.01L625.24 453.02L627.16 453.02L629.07 453.03L630.98 453.04L632.90 453.04L634.81 453.05L636.72 453.06L638.64 453.06L640.55 453.07L642.46 453.07L644.38 453.08L646.29 453.08L648.21 453.09L650.12 453.10L652.03 453.10L653.95 453.11L655.86 453.11L657.77 453.12L659.69 453.12L661.60 453.13" fill="none" stroke="#ffa500" stroke-width="1.3" stroke-dasharray="4.66 3" stroke-linejoin="round"/>
<path d="M277.50 418.64H284.10M280.80 415.34V421.94M278.47 416.31L283.13 420.97M278.47 420.97L283.13 416.31" stroke="#ffa500" stroke-width="1.3" fill="none"/>
<path d="M322.30 433.31H328.90M325.60 430.01V436.61M323.27 430.98L327.93 435.65M323.27 435.65L327.93 430.98" stroke="#ffa500" stroke-width="1.3" fill="none"/>
<path d="M370.30 443.14H376.90M373.60 439.84V446.44M371.27 440.81L375.93 445.48M371.27 445.48L375.93 440.81" stroke="#ffa500" stroke-width="1.3" fill="none"/>
<path d="M418.30 448.43H424.90M421.60 445.13V451.73M419.27 446.10L423.93 450.77M419.27 450.77L423.93 446.10" stroke="#ffa500" stroke-width="1.3" fill="none"/>
<path d="M466.30 451.19H472.90M469.60 447.89V454.49M467.27 448.86L471.93 453.52M467.27 453.52L471.93 448.86" stroke="#ffa500" stroke-width="1.3" fill="none"/>
<path d="M514.30 452.23H520.90M517.60 448.93V455.53M515.27 449.90L519.93 454.57M515.27 454.57L519.93 449.90" stroke="#ffa500" stroke-width="1.3" fill="none"/>
<path d="M562.30 452.75H568.90M565.60 449.45V456.05M563.27 450.42L567.93 455.09M563.27 455.09L567.93 450.42" stroke="#ffa500" stroke-width="1.3" fill="none"/>
<path d="M610.30 452.98H616.90M613.60 449.68V456.28M611.27 450.64L615.93 455.31M611.27 455.31L615.93 450.64" stroke="#ffa500" stroke-width="1.3" fill="none"/>
<path d="M658.30 453.13H664.90M661.60 449.83V456.43M659.27 450.79L663.93 455.46M659.27 455.46L663.93 450.79" stroke="#ffa500" stroke-width="1.3" fill="none"/>
<path d="M72.98 453.4v-6.5M72.98 6.4v6.5M104.96 453.4v-12.5M104.96 6.4v12.5M136.94 453.4v-6.5M136.94 6.4v6.5M168.92 453.4v-12.5M168.92 6.4v12.5M200.90 453.4v-6.5M200.90 6.4v6.5M232.88 453.4v-12.5M232.88 6.4v12.5M264.86 453.4v-6.5M264.86 6.4v6.5M296.84 453.4v-12.5M296.84 6.4v12.5M328.82 453.4v-6.5M328.82 6.4v6.5M360.80 453.4v-12.5M360.80 6.4v12.5M392.78 453.4v-6.5M392.78 6.4v6.5M424.76 453.4v-12.5M424.76 6.4v12.5M456.74 453.4v-6.5M456.74 6.4v6.5M488.72 453.4v-12.5M488.72 6.4v12.5M520.70 453.4v-6.5M520.70 6.4v6.5M552.68 453.4v-12.5M552.68 6.4v12.5M584.66 453.4v-6.5M584.66 6.4v6.5M616.64 453.4v-12.5M616.64 6.4v12.5M648.62 453.4v-6.5M648.62 6.4v6.5M41.0 416.15h6.5M680.6 416.15h-6.5M41.0 378.90h12.5M680.6 378.90h-12.5M41.0 341.65h6.5M680.6 341.65h-6.5M41.0 304.40h12.5M680.6 304.40h-12.5M41.0 267.15h6.5M680.6 267.15h-6.5M41.0 229.90h12.5M680.6 229.90h-12.5M41.0 192.65h6.5M680.6 192.65h-6.5M41.0 155.40h12.5M680.6 155.40h-12.5M41.0 118.15h6.5M680.6 118.15h-6.5M41.0 80.90h12.5M680.6 80.90h-12.5M41.0 43.65h6.5M680.6 43.65h-6.5" stroke="#000" stroke-width="1.25" fill="none"/>
<rect x="41.0" y="6.4" width="639.60" height="447.00" fill="none" stroke="#000" stroke-width="1.4"/>
<g font-family="Liberation Serif, Times New Roman, serif" stroke="#000" stroke-width="0.25" font-size="17.8" fill="#000">
<text x="41.00" y="472.2" text-anchor="middle">0</text>
<text x="104.96" y="472.2" text-anchor="middle">0.2</text>
<text x="168.92" y="472.2" text-anchor="middle">0.4</text>
<text x="232.88" y="472.2" text-anchor="middle">0.6</text>
<text x="296.84" y="472.2" text-anchor="middle">0.8</text>
<text x="360.80" y="472.2" text-anchor="middle">1</text>
<text x="424.76" y="472.2" text-anchor="middle">1.2</text>
<text x="488.72" y="472.2" text-anchor="middle">1.4</text>
<text x="552.68" y="472.2" text-anchor="middle">1.6</text>
<text x="616.64" y="472.2" text-anchor="middle">1.8</text>
<text x="680.60" y="472.2" text-anchor="middle">2</text>
<text x="35.2" y="459.60" text-anchor="end">0</text>
<text x="35.2" y="385.10" text-anchor="end">1</text>
<text x="35.2" y="310.60" text-anchor="end">2</text>
<text x="35.2" y="236.10" text-anchor="end">3</text>
<text x="35.2" y="161.60" text-anchor="end">4</text>
<text x="35.2" y="87.10" text-anchor="end">5</text>
<text x="35.2" y="12.60" text-anchor="end">6</text>
</g>
<text font-family="Liberation Serif, Times New Roman, serif" stroke="#000" stroke-width="0.25" font-size="17.8" x="360.8" y="491.1" text-anchor="middle">E<tspan font-size="12.6" dy="7.1">1</tspan><tspan dy="-7.1"> [MeV]</tspan></text>
<text font-family="Liberation Serif, Times New Roman, serif" stroke="#000" stroke-width="0.25" font-size="17.8" transform="translate(13.3 229.6) rotate(-90)" text-anchor="middle">S(q,E<tspan font-size="12.6" dy="7.1">1</tspan><tspan dy="-7.1">)</tspan></text>
<path d="M278.55 4.5V453.2" stroke="#000" stroke-width="1.2" stroke-dasharray="4.66 3" fill="none"/>
<path d="M283.6 120.1L337.1 76.2" stroke="#000" stroke-width="1.1" fill="none"/>
<text font-family="Liberation Serif, Times New Roman, serif" stroke="#000" stroke-width="0.25" font-size="17.7" x="307.2" y="66.9">n-<tspan font-size="12.6" dy="-10.5">3</tspan><tspan dy="10.5">He threshold</tspan></text>
<rect x="488.6" y="38.2" width="130.3" height="152.8" fill="#fff" stroke="#000" stroke-width="1.25"/>
<path d="M498.7 56.0H524.4" stroke="#000000" stroke-width="1.7"/>
<rect x="495.40" y="52.70" width="6.60" height="6.60" fill="#000000"/>
<rect x="521.10" y="52.70" width="6.60" height="6.60" fill="#000000"/>
<text font-family="Liberation Serif, Times New Roman, serif" stroke="#000" stroke-width="0.25" font-size="17.8" x="537.2" y="63.6">q=0.4 fm<tspan font-size="12.6" dy="-10.5">-1</tspan></text>
<path d="M498.7 85.5H524.4" stroke="#ff0000" stroke-width="1.7"/>
<path d="M498.70 80.65L494.50 87.92L502.90 87.92Z" fill="#ff0000"/>
<path d="M524.40 80.65L520.20 87.92L528.60 87.92Z" fill="#ff0000"/>
<text font-family="Liberation Serif, Times New Roman, serif" stroke="#000" stroke-width="0.25" font-size="17.8" x="537.2" y="93.1">q=0.8 fm<tspan font-size="12.6" dy="-10.5">-1</tspan></text>
<path d="M498.7 115.0H524.4" stroke="#00ff00" stroke-width="1.7"/>
<circle cx="498.70" cy="115.00" r="3.5" fill="#00ff00"/>
<circle cx="524.40" cy="115.00" r="3.5" fill="#00ff00"/>
<text font-family="Liberation Serif, Times New Roman, serif" stroke="#000" stroke-width="0.25" font-size="17.8" x="537.2" y="122.6">q=1.2 fm<tspan font-size="12.6" dy="-10.5">-1</tspan></text>
<path d="M498.7 144.5H524.4" stroke="#0000ff" stroke-width="1.7"/>
<path d="M498.70 149.35L494.50 142.08L502.90 142.08Z" fill="#0000ff"/>
<path d="M524.40 149.35L520.20 142.08L528.60 142.08Z" fill="#0000ff"/>
<text font-family="Liberation Serif, Times New Roman, serif" stroke="#000" stroke-width="0.25" font-size="17.8" x="537.2" y="152.1">q=1.6 fm<tspan font-size="12.6" dy="-10.5">-1</tspan></text>
<path d="M498.7 174.0H524.4" stroke="#ffa500" stroke-width="1.7"/>
<path d="M495.40 174.00H502.00M498.70 170.70V177.30M496.37 171.67L501.03 176.33M496.37 176.33L501.03 171.67" stroke="#ffa500" stroke-width="1.3" fill="none"/>
<path d="M521.10 174.00H527.70M524.40 170.70V177.30M522.07 171.67L526.73 176.33M522.07 176.33L526.73 171.67" stroke="#ffa500" stroke-width="1.3" fill="none"/>
<text font-family="Liberation Serif, Times New Roman, serif" stroke="#000" stroke-width="0.25" font-size="17.8" x="537.2" y="181.6">q=2.0 fm<tspan font-size="12.6" dy="-10.5">-1</tspan></text>
</svg>
</body></html>
